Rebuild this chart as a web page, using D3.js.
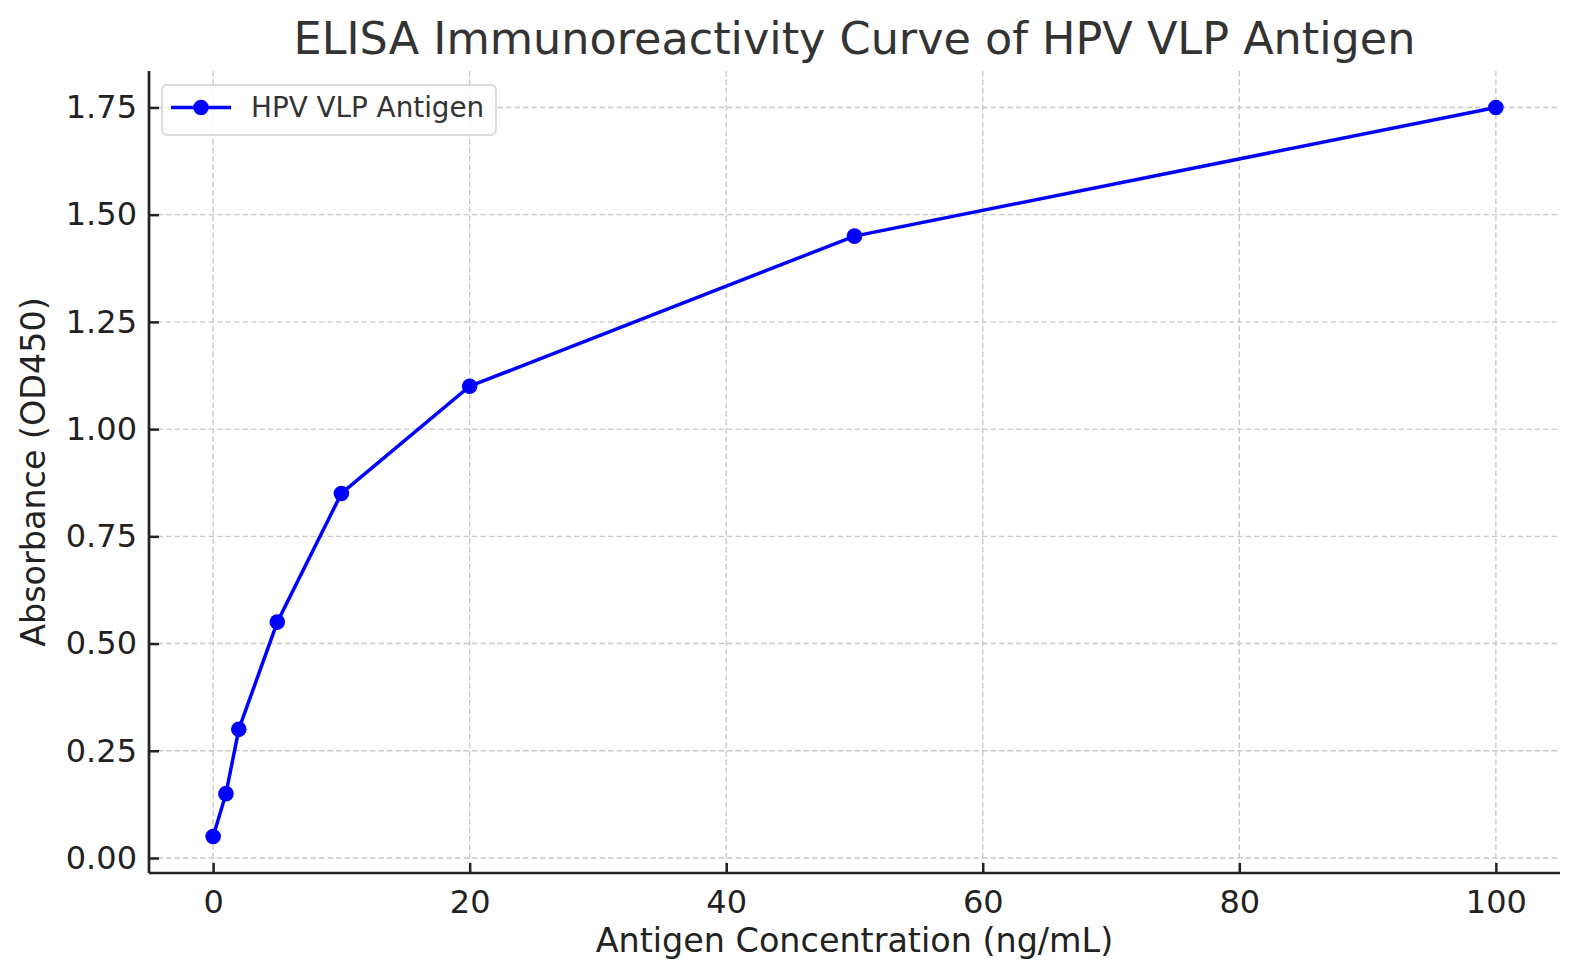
<!DOCTYPE html>
<html>
<head>
<meta charset="utf-8">
<script src="https://cdn.jsdelivr.net/npm/d3@7"></script>
<style>
  body { margin: 0; background: #fff; }
  svg text { font-family: "DejaVu Sans", sans-serif; }
</style>
</head>
<body>
<svg id="chart" width="1580" height="980"></svg>
<script>
// data
const concentrations = [0, 1, 2, 5, 10, 20, 50, 100];
const absorbance = [0.05, 0.15, 0.3, 0.55, 0.85, 1.1, 1.45, 1.75];
const xTicks = [0, 20, 40, 60, 80, 100];
const yTicks = [0, 0.25, 0.5, 0.75, 1.0, 1.25, 1.5, 1.75];
const seriesName = "HPV VLP Antigen";

const svg = d3.select("#chart");
const margin = { top: 71, right: 20, bottom: 107, left: 149 };
const width = 1580 - margin.left - margin.right;
const height = 980 - margin.top - margin.bottom;

const g = svg
  .append("g")
  .attr("transform", "translate(" + margin.left + "," + margin.top + ")");

const x = d3.scaleLinear().domain([-5, 105]).range([0, width]);
const y = d3.scaleLinear().domain([-0.035, 1.835]).range([height, 0]);

// grid lines
g.append("g")
  .attr("class", "grid")
  .selectAll("line.gx")
  .data(xTicks)
  .enter()
  .append("line")
  .attr("x1", d => x(d))
  .attr("x2", d => x(d))
  .attr("y1", 0)
  .attr("y2", height);

g.select(".grid")
  .selectAll("line.gy")
  .data(yTicks)
  .enter()
  .append("line")
  .attr("x1", 0)
  .attr("x2", width)
  .attr("y1", d => y(d))
  .attr("y2", d => y(d));

g.selectAll(".grid line")
  .attr("stroke", "#c8c8c8")
  .attr("stroke-width", 1.4)
  .attr("stroke-dasharray", "5.5,3");

// axes, ticks pointing inward
const xAxis = g
  .append("g")
  .attr("transform", "translate(0," + height + ")")
  .call(d3.axisBottom(x).tickValues(xTicks).tickSize(-10).tickPadding(10).tickFormat(d3.format("d")));

const yAxis = g
  .append("g")
  .call(d3.axisLeft(y).tickValues(yTicks).tickSize(-10).tickPadding(12).tickFormat(d3.format(".2f")));

[xAxis, yAxis].forEach(ax => {
  ax.selectAll(".domain").remove();
  ax.selectAll(".tick line").attr("stroke", "#222").attr("stroke-width", 2.5);
  ax.selectAll(".tick text")
    .attr("fill", "#222")
    .style("font-size", "32px");
});
xAxis.selectAll(".tick text").attr("dy", "0.93em");

// spines: left and bottom only
g.append("line")
  .attr("x1", 0).attr("x2", 0)
  .attr("y1", 0).attr("y2", height)
  .attr("stroke", "#222").attr("stroke-width", 2.7);
g.append("line")
  .attr("x1", 0).attr("x2", width)
  .attr("y1", height).attr("y2", height)
  .attr("stroke", "#222").attr("stroke-width", 2.7);

// the curve
const line = d3
  .line()
  .x((d, i) => x(concentrations[i]))
  .y(d => y(d));

g.append("path")
  .attr("d", line(absorbance))
  .attr("fill", "none")
  .attr("stroke", "#0000ff")
  .attr("stroke-width", 3.5);

g.selectAll(".dot")
  .data(absorbance)
  .enter()
  .append("circle")
  .attr("class", "dot")
  .attr("cx", (d, i) => x(concentrations[i]))
  .attr("cy", d => y(d))
  .attr("r", 7.8)
  .attr("fill", "#0000ff");

// legend
const legend = svg.append("g").attr("transform", "translate(162,85)");
legend
  .append("rect")
  .attr("width", 334)
  .attr("height", 50)
  .attr("rx", 5)
  .attr("fill", "#fff")
  .attr("fill-opacity", 0.8)
  .attr("stroke", "#d0d0d0")
  .attr("stroke-width", 1.5);
legend
  .append("line")
  .attr("x1", 9).attr("x2", 69)
  .attr("y1", 22.5).attr("y2", 22.5)
  .attr("stroke", "#0000ff")
  .attr("stroke-width", 3.5);
legend
  .append("circle")
  .attr("cx", 39).attr("cy", 22.5)
  .attr("r", 7.8)
  .attr("fill", "#0000ff");
legend
  .append("text")
  .attr("x", 89)
  .attr("y", 22.5)
  .attr("dy", "0.35em")
  .attr("fill", "#333")
  .style("font-size", "27.8px")
  .text(seriesName);

// titles
svg.append("text")
  .attr("x", margin.left + width / 2)
  .attr("y", 54)
  .attr("text-anchor", "middle")
  .attr("fill", "#333")
  .style("font-size", "44.5px")
  .text("ELISA Immunoreactivity Curve of HPV VLP Antigen");

svg.append("text")
  .attr("x", margin.left + width / 2)
  .attr("y", 952)
  .attr("text-anchor", "middle")
  .attr("fill", "#222")
  .style("font-size", "33.4px")
  .text("Antigen Concentration (ng/mL)");

svg.append("text")
  .attr("transform", "translate(45," + (margin.top + height / 2) + ") rotate(-90)")
  .attr("text-anchor", "middle")
  .attr("fill", "#222")
  .style("font-size", "33.4px")
  .text("Absorbance (OD450)");
</script>
</body>
</html>
